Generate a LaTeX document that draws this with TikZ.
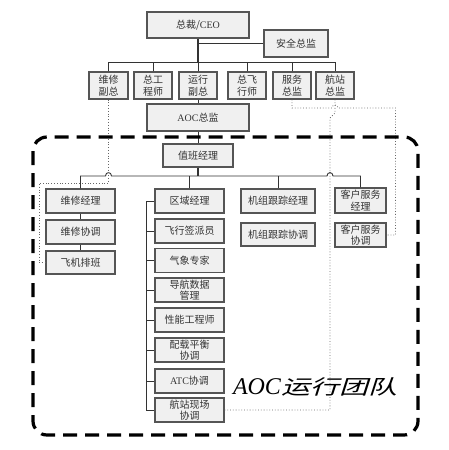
\documentclass[tikz,border=0pt]{standalone}
\usepackage{fontspec}
\usepackage{graphicx}
\setmainfont{Liberation Serif}
\newfontfamily\cjk{Noto Sans CJK SC}
\newfontfamily\cjkslant[FakeSlant=0.22]{Noto Sans CJK SC}
\definecolor{boxfill}{HTML}{F0F0F0}
\definecolor{boxline}{HTML}{555555}
\definecolor{connline}{HTML}{333333}
\definecolor{dotline}{HTML}{666666}
\definecolor{textgray}{HTML}{333333}
\begin{document}
\begin{tikzpicture}[x=1pt,y=-1pt,
  box/.style={draw=boxline, fill=boxfill, line width=1.1pt, inner sep=0pt, align=center,
    font=\cjk\fontsize{10}{11.5}\selectfont, text=textgray},
  conn/.style={draw=connline, line width=0.9pt},
  dotln/.style={draw=dotline, line width=0.8pt, dotted},
  teamframe/.style={draw=black, line width=3.2pt, dash pattern=on 14pt off 8pt, rounded corners=14pt}]
\useasboundingbox (0,0) rectangle (449,450);

% top level
\node[box, minimum width=102, minimum height=26] (ceo) at (198,25) {总裁/{\rmfamily CEO}};
\node[box, minimum width=64, minimum height=27] (safety) at (296,43.5) {安全总监};

\node[box, minimum width=39, minimum height=27] (v1) at (108.5,85.5) {维修\\副总};
\node[box, minimum width=38, minimum height=27] (v2) at (153,85.5) {总工\\程师};
\node[box, minimum width=38, minimum height=27] (v3) at (198,85.5) {运行\\副总};
\node[box, minimum width=38, minimum height=27] (v4) at (247,85.5) {总飞\\行师};
\node[box, minimum width=38, minimum height=27] (v5) at (292,85.5) {服务\\总监};
\node[box, minimum width=38, minimum height=27] (v6) at (335,85.5) {航站\\总监};

\node[box, minimum width=102, minimum height=27] (aoc) at (198,117.5) {{\rmfamily AOC}总监};
\node[box, minimum width=70, minimum height=23] (duty) at (198,155.5) {值班经理};

% column 1
\node[box, minimum width=69, minimum height=24] (m1) at (80.5,201) {维修经理};
\node[box, minimum width=69, minimum height=24] (m2) at (80.5,232) {维修协调};
\node[box, minimum width=69, minimum height=23] (m3) at (80.5,262.5) {飞机排班};

% column 2
\node[box, minimum width=69, minimum height=24] (r1) at (189.5,201) {区域经理};
\node[box, minimum width=69, minimum height=24] (r2) at (189.5,231) {飞行签派员};
\node[box, minimum width=69, minimum height=24] (r3) at (189.5,260.5) {气象专家};
\node[box, minimum width=69, minimum height=24] (r4) at (189.5,290) {导航数据\\管理};
\node[box, minimum width=69, minimum height=24] (r5) at (189.5,320) {性能工程师};
\node[box, minimum width=69, minimum height=24] (r6) at (189.5,350) {配载平衡\\协调};
\node[box, minimum width=69, minimum height=24] (r7) at (189.5,381) {{\rmfamily ATC}协调};
\node[box, minimum width=69, minimum height=24] (r8) at (189.5,410) {航站现场\\协调};

% column 3
\node[box, minimum width=74, minimum height=24] (k1) at (278,201) {机组跟踪经理};
\node[box, minimum width=74, minimum height=23] (k2) at (278,234.5) {机组跟踪协调};

% column 4
\node[box, minimum width=51, minimum height=25] (c1) at (360.5,200.5) {客户服务\\经理};
\node[box, minimum width=51, minimum height=24] (c2) at (360.5,235) {客户服务\\协调};

% coordinates
\coordinate (bus1) at (198,62);
\coordinate (bus2) at (198,176);
\coordinate (sp) at (146,0);

% solid connectors, top
\draw[conn, line width=1.4pt] (ceo.south) -- (bus1);
\draw[conn] (safety.west) -- (ceo.south |- safety.west);
\draw[conn] (v1.north) -- (v1.north |- bus1) -- (v6.north |- bus1) -- (v6.north);
\draw[conn] (v2.north) -- (v2.north |- bus1);
\draw[conn] (v3.north) -- (bus1);
\draw[conn] (v4.north) -- (v4.north |- bus1);
\draw[conn] (v5.north) -- (v5.north |- bus1);
\draw[conn] (v3.south) -- (aoc.north);
\draw[conn] (aoc.south) -- (duty.north);
\draw[conn, line width=1.2pt] (duty.south) -- (bus2);

% second bus with hops over dotted lines
\draw[conn] (m1.north) -- (m1.north |- bus2) -- (105.5,176)
  .. controls (105.5,171.5) and (111.5,171.5) .. (111.5,176) -- (327,176)
  .. controls (327,171.5) and (333,171.5) .. (333,176) -- (c1.north |- bus2) -- (c1.north);
\draw[conn] (r1.north) -- (r1.north |- bus2);
\draw[conn] (k1.north) -- (k1.north |- bus2);

% column 1 chain
\draw[conn] (m1.south) -- (m2.north);
\draw[conn] (m2.south) -- (m3.north);

% column 2 spine
\draw[conn] (r1.west) -- (r1.west -| sp) -- (r8.west -| sp) -- (r8.west);
\foreach \n in {r2,r3,r4,r5,r6,r7} {
  \draw[conn] (\n.west) -- (\n.west -| sp);
}

% dotted lines
\draw[dotln] (v1.south) -- (108.5,183) -- (39,183) -- (39,262.5) -- (m3.west);
\draw[dotln] (v5.south) -- (292,108) -- (332,108)
  .. controls (332,104) and (338,104) .. (338,108) -- (395.5,108) -- (395.5,235) -- (c2.east);
\draw[dotln] (v6.south) -- (335,113) -- (330,118) -- (330,410) -- (r8.east);

% team frame
\draw[teamframe] (33,137) rectangle (418,435);
\node[inner sep=0pt] (team) at (315,387)
  {\fontsize{24}{24}\selectfont\itshape AOC\scalebox{1.45}[1]{\cjkslant\fontsize{20}{20}\selectfont 运行团队}};
\end{tikzpicture}
\end{document}
